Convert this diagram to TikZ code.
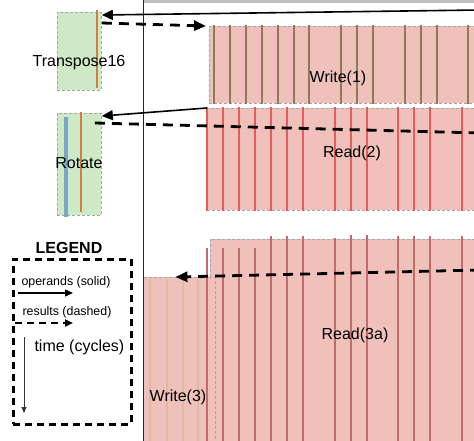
\documentclass[tikz,border=0pt]{standalone}
\usepackage{fontspec}
\setmainfont{Liberation Sans}
\usetikzlibrary{positioning,arrows.meta}
\definecolor{greenfill}{HTML}{CDE9C6}
\definecolor{pinkfill}{HTML}{EFC1BA}
\definecolor{oliveline}{HTML}{8B7B57}
\definecolor{redline}{HTML}{E35D5B}
\definecolor{rustline}{HTML}{C46A6A}
\definecolor{beigeline}{HTML}{DDBB9D}
\definecolor{orangeline}{HTML}{CC8048}
\definecolor{blueline}{HTML}{7BA7C7}

\begin{document}
\begin{tikzpicture}[x=1pt,y=-1pt,
          every node/.style={font=\fontsize{16}{18}\selectfont},
          small/.style={font=\fontsize{12.4}{14}\selectfont},
          gbox/.style={draw=gray!70,dash pattern=on 3pt off 2pt,line width=0.8pt,fill=greenfill,anchor=north west,inner sep=0pt},
          pbox/.style={draw=gray!70,dash pattern=on 3pt off 2pt,line width=0.8pt,fill=pinkfill,anchor=north west,inner sep=0pt},
          lane/.style={line width=2pt},
          opnd/.style={line width=1.6pt,-{Triangle[length=11pt,width=10pt]}},
          res/.style={line width=2.8pt,dash pattern=on 10pt off 7pt},
          lgd/.style={draw,line width=2.6pt,dash pattern=on 7pt off 5pt,anchor=north west,inner sep=0pt},
        ]
        \clip (0,0) rectangle (474,441);
        \fill[gray!50] (143,-5) rectangle (480,3.5);
        \node[gbox,minimum width=44pt,minimum height=78pt] (t16) at (57,12) {};
        \node[gbox,minimum width=44pt,minimum height=102pt] (rot) at (57,113) {};
        \node[pbox,minimum width=280pt,minimum height=77pt] (w1) at (209,26) {};
        \node[pbox,minimum width=280pt,minimum height=102pt] (r2) at (207,108) {};
        \node[pbox,minimum width=280pt,minimum height=210pt] (r3a) at (210,239) {};
        \node[pbox,minimum width=72pt,minimum height=170pt] (w3) at (143,277) {};
        \draw[black!85,line width=0.9pt] (143,-5) -- (143,450);
        \draw[lane,orangeline] (97,10) -- (97,88);
        \draw[line width=4pt,blueline] (66,117) -- (66,217);
        \draw[lane,orangeline] (81,112) -- (81,212);
        \foreach \i in {0,...,6,8,9,10,12,13,14,16} {
          \draw[lane,oliveline] ({214+15.9*\i},25) -- ({214+15.9*\i},104);
          \draw[lane,redline] ({207+15.95*\i},107) -- ({207+15.95*\i},211);
        }
        \foreach \i/\top in {0/248,1/248,2/248,3/248,4/236,5/236,6/236,8/238,9/235,10/235,12/236,13/236,14/236,16/236} {
          \draw[lane,rustline] ({207+15.95*\i},\top) -- ({207+15.95*\i},445);
        }
        \foreach \xc in {150,167,183,198} {
          \draw[lane,beigeline] (\xc,279) -- (\xc,445);
        }
        \coordinate (opA) at (480,10);
        \coordinate (resB) at (480,133);
        \coordinate (resC) at (480,270);
        \draw[opnd] (opA) -- ([yshift=-3pt]t16.north east);
        \draw[res,-{Triangle[length=12pt,width=10pt]}] ([yshift=-11pt]t16.north east) -- ([xshift=-3pt]w1.north west);
        \draw[opnd] (r2.north west) -- ([yshift=-3pt]rot.north east);
        \draw[res] ([xshift=-7pt,yshift=-10pt]rot.north east) -- (resB);
        \draw[res,-{Triangle[length=12pt,width=10pt]}] (resC) -- ([xshift=-4pt]w3.north);
        \node (t16lab) at (79,63) {Transpose16};
        \node (rotlab) at (79,163) {Rotate};
        \node (w1lab) at (338,78) {Write(1)};
        \node (r2lab) at (352,153) {Read(2)};
        \node (r3alab) at (355,335) {Read(3a)};
        \node (w3lab) at (178,397) {Write(3)};
        \node[lgd,minimum width=118pt,minimum height=165pt] (leg) at (12,258) {};
        \node[font=\fontsize{16}{18}\selectfont\bfseries] (legt) at (69,248) {LEGEND};
        \node[small,anchor=west] (opt) at (18,282) {operands (solid)};
        \node[small,anchor=west] (rest) at (19,312) {results (dashed)};
        \node[anchor=west] (timet) at (31,347) {time (cycles)};
        \coordinate (sA) at (18,293);
        \coordinate (sB) at (73,293);
        \coordinate (dA) at (15,323);
        \coordinate (dB) at (73,323);
        \coordinate (tA) at (24,337);
        \coordinate (tB) at (24,413);
        \draw[line width=1.3pt,-{Triangle[length=8pt,width=7pt]}] (sA) -- (sB);
        \draw[line width=2pt,dash pattern=on 7pt off 5pt,-{Triangle[length=8pt,width=7pt]}] (dA) -- (dB);
        \draw[black!80,line width=0.9pt,-{Triangle[length=6pt,width=5pt]}] (tA) -- (tB);
      \end{tikzpicture}
\end{document}
